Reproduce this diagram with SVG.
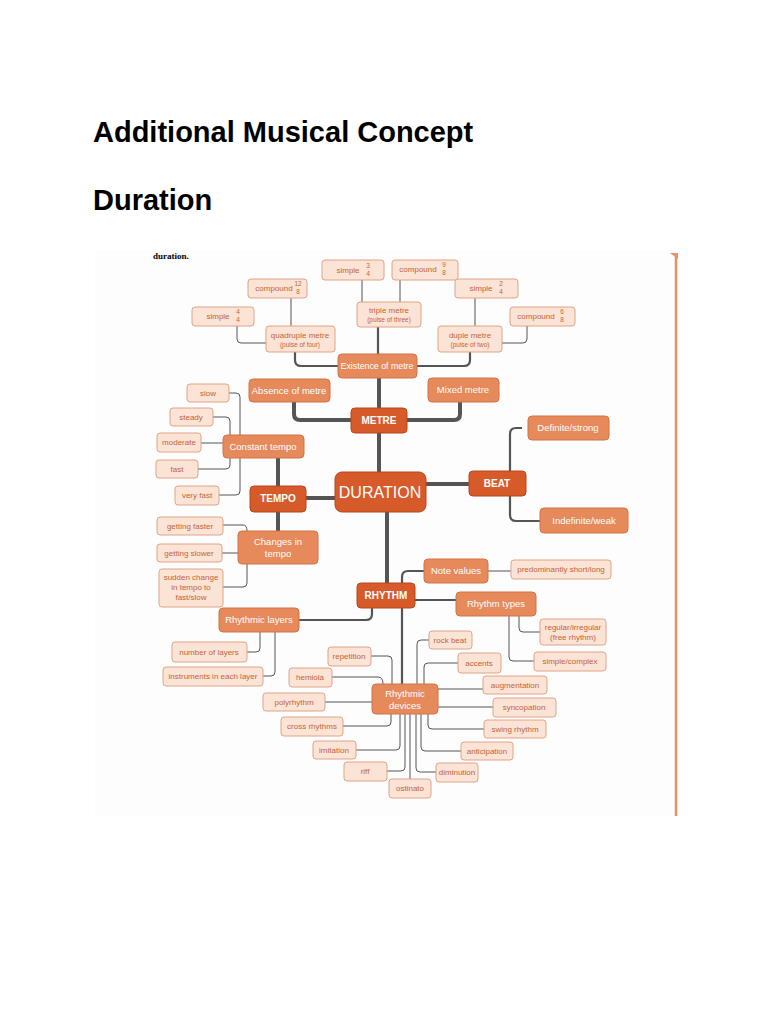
<svg xmlns="http://www.w3.org/2000/svg" width="768" height="1024" viewBox="0 0 768 1024">
<style>
.h{font-family:"Liberation Sans",Arial,sans-serif;font-weight:bold;font-size:29px;fill:#000}
.m rect{fill:#d65a2a;stroke:#b8461c;stroke-width:1}
.m text{font-family:"Liberation Sans",Arial,sans-serif;font-weight:bold;font-size:10px;fill:#fff;text-anchor:middle}
.s rect{fill:#e6895b;stroke:#d27447;stroke-width:1}
.s text{font-family:"Liberation Sans",Arial,sans-serif;font-size:9.5px;fill:#fff;text-anchor:middle}
.l rect{fill:#fbe3d5;stroke:#e0a487;stroke-width:1}
.l text{font-family:"Liberation Sans",Arial,sans-serif;font-size:8px;fill:#c4643a;text-anchor:middle}
.l text.f{font-size:6.5px}
.k{fill:none;stroke:#555;stroke-linejoin:round}
.t1{stroke-width:4}.t2{stroke-width:2.2}.t3{stroke-width:1}
</style>
<rect width="768" height="1024" fill="#fff"/>
<text class="h" x="93" y="142">Additional Musical Concept</text>
<text class="h" x="93" y="210">Duration</text>
<rect x="95" y="250" width="582" height="566" fill="#fdfdfd"/>
<path d="M676 253 V816" stroke="#e8906a" stroke-width="2.5"/>
<path d="M670 253 H678 V259 Z" fill="#e8906a"/>
<text x="153" y="259" font-family="Liberation Serif,serif" font-weight="bold" font-size="9">duration.</text>

<g id="connectors">
<path class="k t1" d="M379 378 V472 M294 402 V414 Q294 420 300 420 H351 M460 402 V414 Q460 420 454 420 H407"/>
<path class="k t2" d="M378 327 V354 M338 366 H301 Q295 366 295 360 V352 M417 366 H464 Q470 366 470 360 V352"/>
<path class="k t1" d="M426 484 H469 M335 498 H306 M278 458 V486 M278 512 V531 M387 512 V583"/>
<path class="k t2" d="M522 428 H516 Q510 428 510 434 V515 Q510 521 516 521 H540"/>
<path class="k t3" d="M362 280 V302 M400 280 V302 M291 298 V326 M475 298 V326 M237 326 V339 Q237 343 241 343 H266 M527 326 V339 Q527 343 523 343 H502"/>
<path class="k t3" d="M229 393 H236 Q240 393 240 397 V491 Q240 495 236 495 H219 M213 417 H226 Q230 417 230 421 V465 Q230 469 226 469 H198 M201 443 H223"/>
<path class="k t3" d="M223 525 H243 Q247 525 247 531 M222 553 H238 M247 564 V583 Q247 587 243 587 H223"/>
<path class="k t2" d="M402 583 V577 Q402 571 408 571 H424 M415 600 H456 M372 608 V614 Q372 620 366 620 H299 M402 608 V684"/>
<path class="k t3" d="M488 571 H511 M519 616 V628 Q519 632 523 632 H540 M509 616 V657 Q509 661 513 661 H534 M260 632 V648 Q260 652 256 652 H247 M275 632 V672 Q275 676 271 676 H263"/>
<path class="k t3" d="M371 656 H388 Q392 656 392 660 V684 M332 677 H378 Q383 677 383 684 M429 640 H421 Q417 640 417 644 V684 M458 663 H428 Q424 663 424 667 V684 M325 702 H372 M438 689 H483 M438 707 H493 M343 726 H387 Q391 726 391 722 V714 M356 750 H396 Q400 750 400 746 V714 M387 771 H401 Q405 771 405 767 V714 M410 714 V779 M436 772 H420 Q416 772 416 768 V714 M461 751 H425 Q421 751 421 747 V714 M484 729 H432 Q428 729 428 725 V714"/>
</g>

<g id="duration" class="m"><rect x="335" y="472" width="91" height="40" rx="7" fill="#d4582a"/><text x="380" y="498" style="font-weight:normal;font-size:16px">DURATION</text></g>
<g id="metre" class="m"><rect x="351" y="408" width="56" height="25" rx="4"/><text x="379" y="424">METRE</text></g>
<g id="tempo" class="m"><rect x="250" y="486" width="56" height="26" rx="4"/><text x="278" y="502">TEMPO</text></g>
<g id="beat" class="m"><rect x="469" y="471" width="57" height="25" rx="4"/><text x="497" y="487">BEAT</text></g>
<g id="rhythm" class="m"><rect x="357" y="583" width="58" height="25" rx="4"/><text x="386" y="599">RHYTHM</text></g>

<g id="existence" class="s"><rect x="338" y="354" width="79" height="24" rx="4"/><text x="377" y="369" style="font-size:8.8px">Existence of metre</text></g>
<g id="absence" class="s"><rect x="249" y="379" width="81" height="23" rx="4"/><text x="289" y="394">Absence of metre</text></g>
<g id="mixed" class="s"><rect x="428" y="378" width="71" height="24" rx="4"/><text x="463" y="393">Mixed metre</text></g>
<g id="constant" class="s"><rect x="223" y="435" width="81" height="23" rx="4"/><text x="263" y="450">Constant tempo</text></g>
<g id="changes" class="s"><rect x="238" y="531" width="80" height="33" rx="4"/><text x="278" y="545">Changes in</text><text x="278" y="557">tempo</text></g>
<g id="definite" class="s"><rect x="528" y="416" width="81" height="24" rx="4"/><text x="568" y="431">Definite/strong</text></g>
<g id="indefinite" class="s"><rect x="540" y="508" width="88" height="25" rx="4"/><text x="584" y="524">Indefinite/weak</text></g>
<g id="notevalues" class="s"><rect x="424" y="559" width="64" height="24" rx="4"/><text x="456" y="574">Note values</text></g>
<g id="rhythmtypes" class="s"><rect x="456" y="592" width="80" height="24" rx="4"/><text x="496" y="607">Rhythm types</text></g>
<g id="layers" class="s"><rect x="219" y="608" width="80" height="24" rx="4"/><text x="259" y="623">Rhythmic layers</text></g>
<g id="devices" class="s"><rect x="372" y="684" width="66" height="30" rx="4"/><text x="405" y="697">Rhythmic</text><text x="405" y="709">devices</text></g>

<g id="triple" class="l"><rect x="357" y="302" width="64" height="25" rx="3"/><text x="389" y="313">triple metre</text><text class="f" x="389" y="322">(pulse of three)</text></g>
<g id="quadruple" class="l"><rect x="266" y="326" width="69" height="26" rx="3"/><text x="300" y="338">quadruple metre</text><text class="f" x="300" y="347">(pulse of four)</text></g>
<g id="duple" class="l"><rect x="438" y="326" width="64" height="26" rx="3"/><text x="470" y="338">duple metre</text><text class="f" x="470" y="347">(pulse of two)</text></g>
<g id="s34" class="l"><rect x="322" y="260" width="62" height="20" rx="3"/><text x="348" y="273">simple</text><text class="f" x="368" y="268">3</text><text class="f" x="368" y="276">4</text></g>
<g id="c98" class="l"><rect x="392" y="260" width="66" height="20" rx="3"/><text x="418" y="272">compound</text><text class="f" x="444" y="267">9</text><text class="f" x="444" y="275">8</text></g>
<g id="c128" class="l"><rect x="248" y="279" width="59" height="19" rx="3"/><text x="274" y="291">compound</text><text class="f" x="298" y="286">12</text><text class="f" x="298" y="294">8</text></g>
<g id="s24" class="l"><rect x="455" y="279" width="63" height="19" rx="3"/><text x="481" y="291">simple</text><text class="f" x="501" y="286">2</text><text class="f" x="501" y="294">4</text></g>
<g id="s44" class="l"><rect x="192" y="307" width="62" height="19" rx="3"/><text x="218" y="319">simple</text><text class="f" x="238" y="314">4</text><text class="f" x="238" y="322">4</text></g>
<g id="c68" class="l"><rect x="510" y="307" width="65" height="19" rx="3"/><text x="536" y="319">compound</text><text class="f" x="562" y="314">6</text><text class="f" x="562" y="322">8</text></g>

<g id="slow" class="l"><rect x="187" y="384" width="42" height="18" rx="3"/><text x="208" y="396">slow</text></g>
<g id="steady" class="l"><rect x="170" y="408" width="43" height="18" rx="3"/><text x="191" y="420">steady</text></g>
<g id="moderate" class="l"><rect x="157" y="433" width="44" height="19" rx="3"/><text x="179" y="445">moderate</text></g>
<g id="fast" class="l"><rect x="156" y="460" width="42" height="18" rx="3"/><text x="177" y="472">fast</text></g>
<g id="veryfast" class="l"><rect x="175" y="486" width="44" height="19" rx="3"/><text x="197" y="498">very fast</text></g>
<g id="faster" class="l"><rect x="157" y="517" width="66" height="18" rx="3"/><text x="190" y="529">getting faster</text></g>
<g id="slower" class="l"><rect x="157" y="544" width="65" height="18" rx="3"/><text x="189" y="556">getting slower</text></g>
<g id="sudden" class="l"><rect x="159" y="569" width="64" height="38" rx="3"/><text x="191" y="580">sudden change</text><text x="191" y="590">in tempo to</text><text x="191" y="600">fast/slow</text></g>
<g id="predominantly" class="l"><rect x="511" y="560" width="100" height="19" rx="3"/><text x="561" y="572">predominantly short/long</text></g>
<g id="regular" class="l"><rect x="540" y="619" width="66" height="26" rx="3"/><text x="573" y="630">regular/irregular</text><text x="573" y="640">(free rhythm)</text></g>
<g id="simplecomplex" class="l"><rect x="534" y="652" width="72" height="19" rx="3"/><text x="570" y="664">simple/complex</text></g>
<g id="numlayers" class="l"><rect x="172" y="642" width="75" height="20" rx="3"/><text x="209" y="655">number of layers</text></g>
<g id="instruments" class="l"><rect x="163" y="667" width="100" height="19" rx="3"/><text x="213" y="679">instruments in each layer</text></g>
<g id="rockbeat" class="l"><rect x="429" y="631" width="43" height="18" rx="3"/><text x="450" y="643">rock beat</text></g>
<g id="repetition" class="l"><rect x="328" y="647" width="43" height="19" rx="3"/><text x="349" y="659">repetition</text></g>
<g id="accents" class="l"><rect x="458" y="653" width="43" height="20" rx="3"/><text x="479" y="666">accents</text></g>
<g id="hemiola" class="l"><rect x="289" y="668" width="43" height="19" rx="3"/><text x="310" y="680">hemiola</text></g>
<g id="augmentation" class="l"><rect x="483" y="676" width="64" height="18" rx="3"/><text x="515" y="688">augmentation</text></g>
<g id="polyrhythm" class="l"><rect x="263" y="693" width="62" height="18" rx="3"/><text x="294" y="705">polyrhythm</text></g>
<g id="syncopation" class="l"><rect x="493" y="698" width="63" height="19" rx="3"/><text x="524" y="710">syncopation</text></g>
<g id="cross" class="l"><rect x="281" y="717" width="62" height="19" rx="3"/><text x="312" y="729">cross rhythms</text></g>
<g id="swing" class="l"><rect x="484" y="720" width="62" height="18" rx="3"/><text x="515" y="732">swing rhythm</text></g>
<g id="imitation" class="l"><rect x="313" y="741" width="43" height="18" rx="3"/><text x="334" y="753">imitation</text></g>
<g id="anticipation" class="l"><rect x="461" y="742" width="52" height="18" rx="3"/><text x="487" y="754">anticipation</text></g>
<g id="riff" class="l"><rect x="344" y="762" width="43" height="19" rx="3"/><text x="365" y="774">riff</text></g>
<g id="diminution" class="l"><rect x="436" y="763" width="42" height="19" rx="3"/><text x="457" y="775">diminution</text></g>
<g id="ostinato" class="l"><rect x="389" y="779" width="42" height="19" rx="3"/><text x="410" y="791">ostinato</text></g>
</svg>
